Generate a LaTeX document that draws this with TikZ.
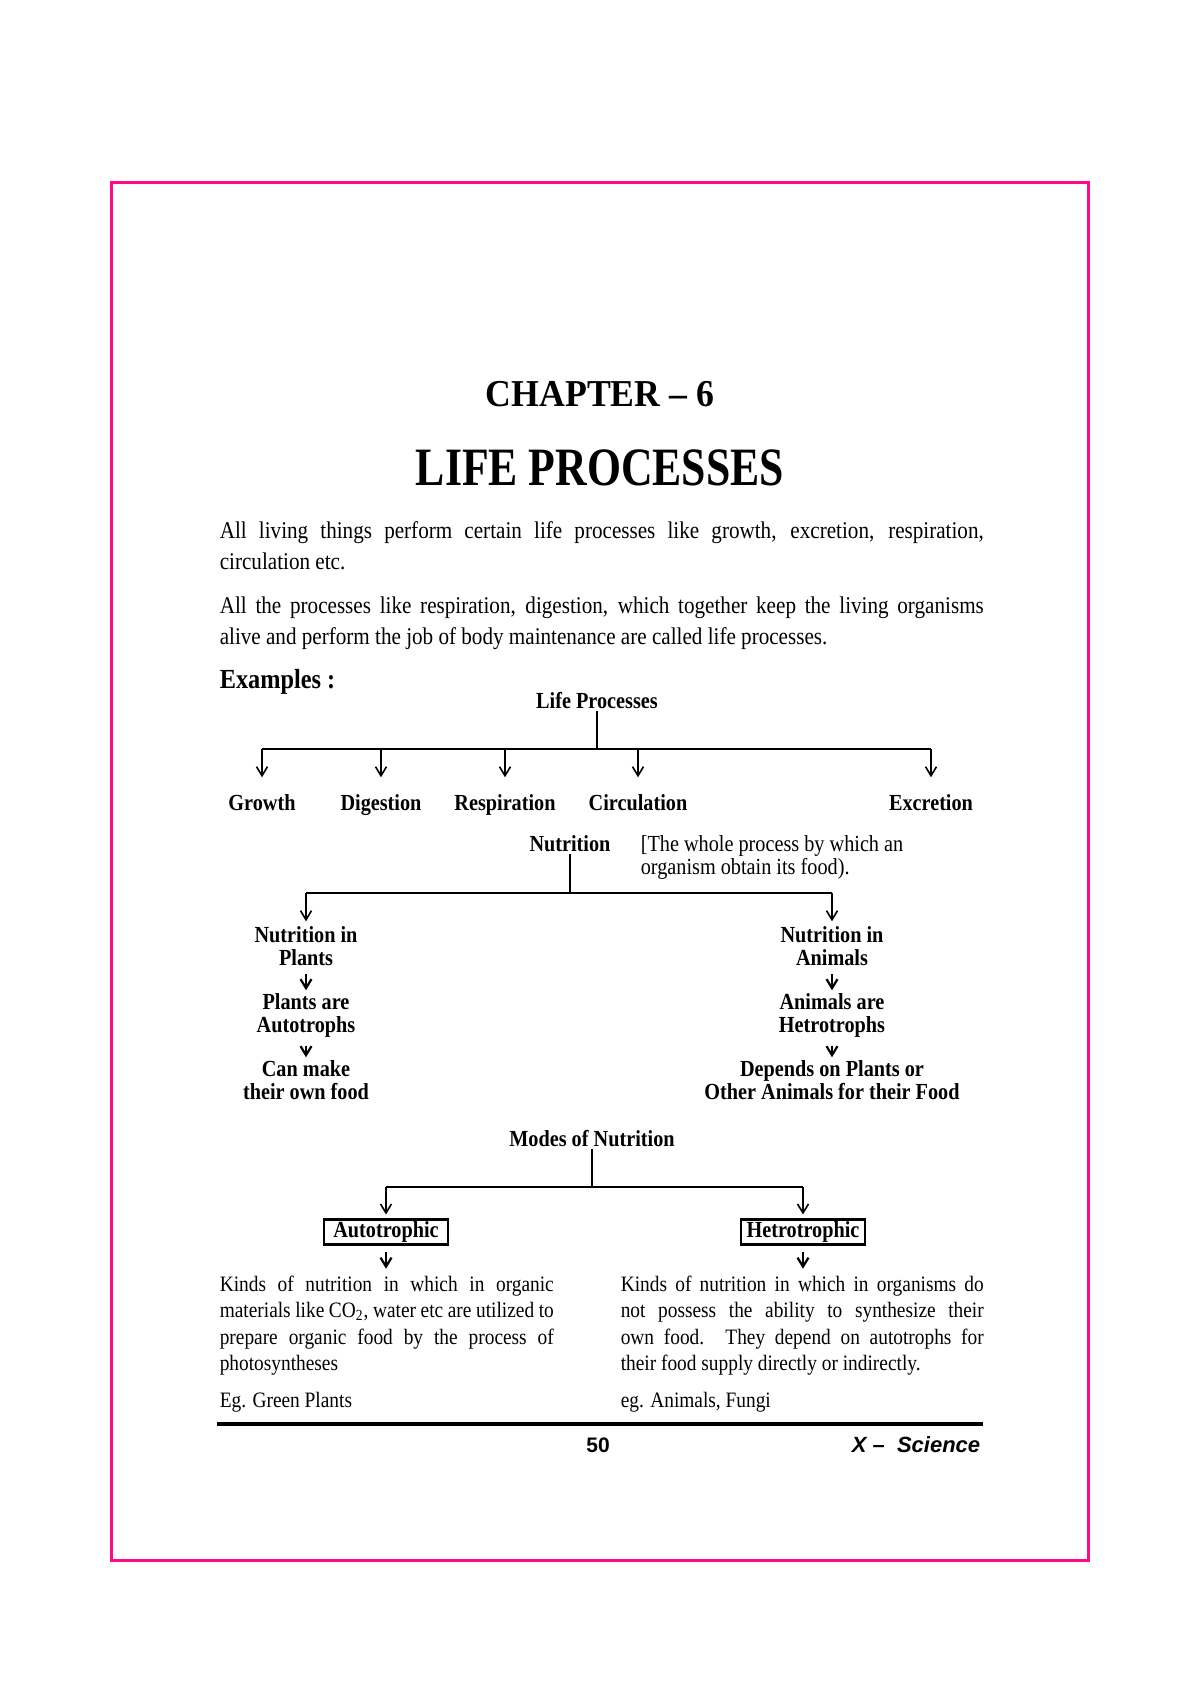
\documentclass[tikz,border=0pt]{standalone}
\usepackage{fontspec}
\setmainfont{Liberation Serif}[FakeStretch=0.88]
\setsansfont{Liberation Sans}
\newfontfamily\titlefont{Liberation Serif}[FakeStretch=0.81, Ligatures=TeX]
\newfontfamily\chapfont{Liberation Serif}[FakeStretch=0.94, Ligatures=TeX]
\usetikzlibrary{arrows.meta}
\definecolor{pagepink}{RGB}{255,10,140}
\newcommand{\jline}[1]{{\spaceskip=0pt\xspaceskip=0pt\makebox[\hsize][s]{#1}}\\}
\newcommand{\natsp}{\spaceskip=0pt\xspaceskip=0pt\relax}

\begin{document}
\begin{tikzpicture}[x=0.5pt, y=-0.5pt,
	every path/.style={line width=0.8pt},
	lbl/.style={anchor=base, align=center, inner sep=1pt,
				font=\fontsize{11.5}{11.5}\selectfont\bfseries},
	note/.style={anchor=base west, align=left, inner sep=0,
				font=\fontsize{11.5}{11.5}\selectfont},
	arr/.style={-{Straight Barb[length=4.5pt, width=5.5pt]}},
	stackarr/.style={arr, line width=1.1pt, shorten <=3pt},
	modebox/.style={draw, line width=1.1pt, inner sep=1pt, minimum width=62pt,
				minimum height=12pt, font=\fontsize{11.5}{11.5}\selectfont\bfseries},
	para/.style={anchor=base west, inner sep=0, align=left,
				font=\fontsize{12}{15.5}\selectfont},
	lowpara/.style={anchor=base west, inner sep=0, align=left,
				font=\fontsize{11}{13.3}\selectfont}]
	\useasboundingbox (0,0) rectangle (1200,1698);
	\draw[pagepink, line width=1.5pt] (111,182) rectangle (1088,1560);

	\node[anchor=base, inner sep=0, font=\chapfont\fontsize{19}{22}\selectfont\bfseries] (chap) at (600,406) {CHAPTER -- 6};
	\node[anchor=base, inner sep=0, font=\titlefont\fontsize{27}{30}\selectfont\bfseries] (title) at (600,485) {LIFE PROCESSES};
	\node[para, text width=382pt] (intro) at (219,538) {\jline{All living things perform certain life processes like growth, excretion, respiration,}\natsp circulation etc.};
	\node[para, text width=382pt] (define) at (219,613) {\jline{All the processes like respiration, digestion, which together keep the living organisms}\natsp alive and perform the job of body maintenance are called life processes.};
	\node[para, font=\fontsize{13.8}{16}\selectfont\bfseries] (examples) at (219,688) {Examples :};

	\node[lbl] (lp) at (597,708) {Life Processes};
	\coordinate (lpbar) at (597,749);
	\node[lbl] (grow) at (262,810) {Growth};
	\node[lbl] (dig) at (381,810) {Digestion};
	\node[lbl] (resp) at (505,810) {Respiration};
	\node[lbl] (circ) at (638,810) {Circulation};
	\node[lbl] (excr) at (931,810) {Excretion};
	\draw (lp) -- (lpbar);
	\draw (grow |- lpbar) -- (excr |- lpbar);
	\foreach \n in {grow,dig,resp,circ,excr}
		\draw[arr, shorten >=7pt] (\n |- lpbar) -- (\n.north);

	\node[lbl] (nut) at (570,851) {Nutrition};
	\node[note] (nutnote) at (640,874) {[The whole process by which an\\organism obtain its food).};
	\coordinate (nutbar) at (570,893);
	\node[lbl] (np1) at (306,965) {Nutrition in\\Plants};
	\node[lbl] (np2) at (306,1032) {Plants are\\Autotrophs};
	\node[lbl] (np3) at (306,1099) {Can make\\their own food};
	\node[lbl] (na1) at (832,965) {Nutrition in\\Animals};
	\node[lbl] (na2) at (832,1032) {Animals are\\Hetrotrophs};
	\node[lbl] (na3) at (832,1099) {Depends on Plants or\\Other Animals for their Food};
	\draw (nut) -- (nutbar);
	\draw (np1 |- nutbar) -- (na1 |- nutbar);
	\foreach \n in {np1,na1}
		\draw[arr, shorten >=1pt] (\n |- nutbar) -- (\n.north);
	\draw[stackarr] (np1) -- (np2);
	\draw[stackarr] (np2) -- (np3);
	\draw[stackarr] (na1) -- (na2);
	\draw[stackarr] (na2) -- (na3);

	\node[lbl] (modes) at (592,1146) {Modes of Nutrition};
	\coordinate (modebar) at (592,1187);
	\node[modebox] (auto) at (386,1232) {Autotrophic};
	\node[modebox] (hetero) at (803,1232) {Hetrotrophic};
	\draw (modes) -- (modebar);
	\draw (auto |- modebar) -- (hetero |- modebar);
	\foreach \n in {auto,hetero}
		\draw[arr, shorten >=2pt] (\n |- modebar) -- (\n.north);
	\node[lowpara, text width=167pt] (autotext) at (219,1291) {\jline{Kinds of nutrition in which in organic}\jline{materials like CO\textsubscript{2}, water etc are utilized to}\jline{prepare organic food by the process of}photosyntheses};
	\node[lowpara, text width=181.5pt] (heterotext) at (620,1291) {\jline{Kinds of nutrition in which in organisms do}\jline{not possess the ability to synthesize their}\jline{own food. They depend on autotrophs for}\natsp their food supply directly or indirectly.};
	\draw[stackarr, shorten >=3pt] (auto) -- (auto |- autotext.north);
	\draw[stackarr, shorten >=3pt] (hetero) -- (hetero |- heterotext.north);
	\node[lowpara] (autoeg) at (219,1407) {Eg. Green Plants};
	\node[lowpara] (heteroeg) at (620,1407) {eg. Animals, Fungi};

	\coordinate (ruleL) at (217,1424);
	\coordinate (ruleR) at (983,1424);
	\draw[line width=2pt] (ruleL) -- (ruleR);
	\node[anchor=base, inner sep=0, font=\sffamily\bfseries\fontsize{10.5}{12}\selectfont] (pageno) at (598,1452) {50};
	\node[anchor=base east, inner sep=0, font=\sffamily\bfseries\itshape\fontsize{11}{13}\selectfont] (subj) at (981,1452) {X --\ \ Science};
\end{tikzpicture}
\end{document}
